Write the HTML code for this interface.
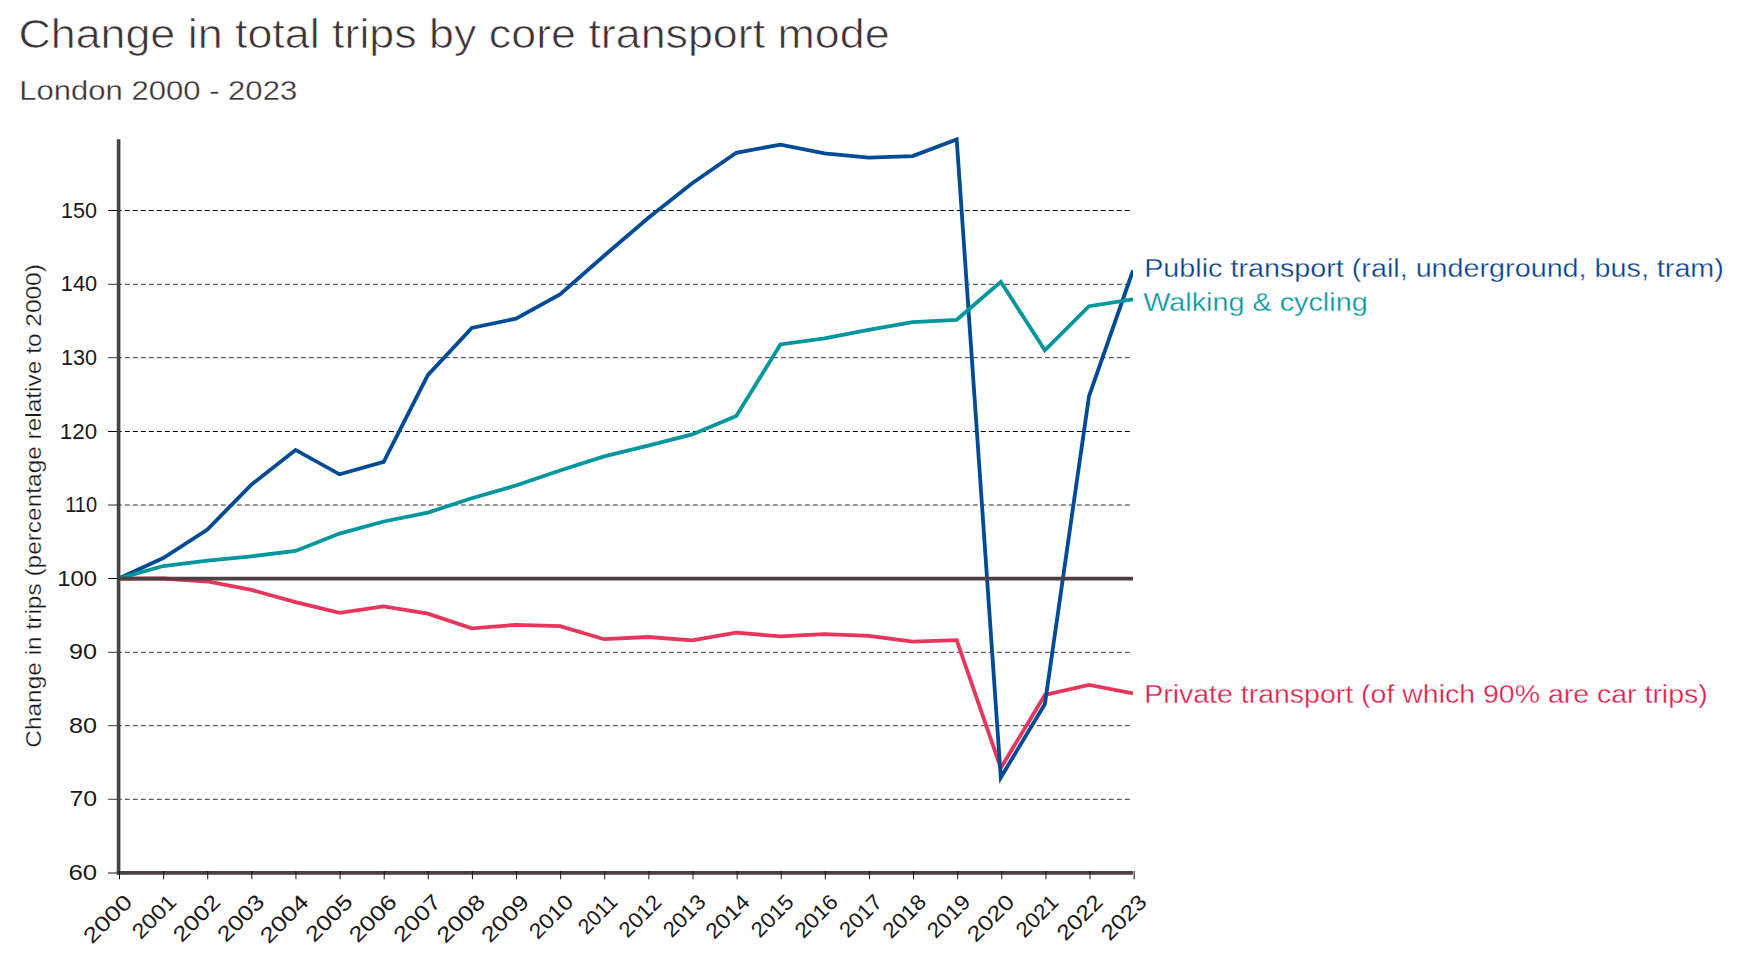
<!DOCTYPE html>
<html lang="en"><head><meta charset="utf-8"><title>Change in total trips by core transport mode</title>
<style>html,body{margin:0;padding:0;background:#fff;}svg{display:block;}text{font-family:"Liberation Sans", sans-serif;}</style>
</head><body>
<svg width="1740" height="962" viewBox="0 0 1740 962">
<rect width="1740" height="962" fill="#fff"/>
<defs><clipPath id="plot"><rect x="110" y="130" width="1023" height="750"/></clipPath></defs>
<text x="18.4" y="48.1" font-size="41.4" fill="#3b3335" stroke="#fff" stroke-width="0.7" textLength="871.2" lengthAdjust="spacingAndGlyphs">Change in total trips by core transport mode</text>
<text x="19.2" y="99.7" font-size="27.6" fill="#3b3335" stroke="#fff" stroke-width="0.3" textLength="278" lengthAdjust="spacingAndGlyphs">London 2000 - 2023</text>
<line x1="116.8" y1="210.50" x2="1130" y2="210.50" stroke="#000" stroke-width="1" stroke-dasharray="5 3"/>
<line x1="116.8" y1="284.30" x2="1130" y2="284.30" stroke="#151112" stroke-width="0.85" stroke-dasharray="5 3"/>
<line x1="116.8" y1="357.70" x2="1130" y2="357.70" stroke="#151112" stroke-width="0.85" stroke-dasharray="5 3"/>
<line x1="116.8" y1="431.50" x2="1130" y2="431.50" stroke="#000" stroke-width="1" stroke-dasharray="5 3"/>
<line x1="116.8" y1="505.00" x2="1130" y2="505.00" stroke="#2e2a2b" stroke-width="1" stroke-dasharray="5 3"/>
<line x1="116.8" y1="652.30" x2="1130" y2="652.30" stroke="#151112" stroke-width="0.85" stroke-dasharray="5 3"/>
<line x1="116.8" y1="725.70" x2="1130" y2="725.70" stroke="#151112" stroke-width="0.85" stroke-dasharray="5 3"/>
<line x1="116.8" y1="799.30" x2="1130" y2="799.30" stroke="#151112" stroke-width="0.85" stroke-dasharray="5 3"/>
<line x1="108.1" y1="873.00" x2="118" y2="873.00" stroke="#151112" stroke-width="1"/>
<text x="68.4" y="880.0" font-size="21.4" fill="#1c1819" textLength="28.7" lengthAdjust="spacingAndGlyphs">60</text>
<line x1="108.1" y1="799.30" x2="118" y2="799.30" stroke="#151112" stroke-width="0.85"/>
<text x="69.4" y="806.3" font-size="21.4" fill="#1c1819" textLength="27.7" lengthAdjust="spacingAndGlyphs">70</text>
<line x1="108.1" y1="725.70" x2="118" y2="725.70" stroke="#151112" stroke-width="0.85"/>
<text x="69.1" y="732.7" font-size="21.4" fill="#1c1819" textLength="28.0" lengthAdjust="spacingAndGlyphs">80</text>
<line x1="108.1" y1="652.30" x2="118" y2="652.30" stroke="#151112" stroke-width="0.85"/>
<text x="69.1" y="659.3" font-size="21.4" fill="#1c1819" textLength="28.0" lengthAdjust="spacingAndGlyphs">90</text>
<line x1="108.1" y1="578.50" x2="118" y2="578.50" stroke="#000" stroke-width="1"/>
<text x="57.3" y="585.5" font-size="21.4" fill="#1c1819" textLength="39.8" lengthAdjust="spacingAndGlyphs">100</text>
<line x1="108.1" y1="505.00" x2="118" y2="505.00" stroke="#2e2a2b" stroke-width="1"/>
<text x="65.2" y="512.0" font-size="21.4" fill="#1c1819" textLength="31.9" lengthAdjust="spacingAndGlyphs">110</text>
<line x1="108.1" y1="431.50" x2="118" y2="431.50" stroke="#000" stroke-width="1"/>
<text x="59.8" y="438.5" font-size="21.4" fill="#1c1819" textLength="37.3" lengthAdjust="spacingAndGlyphs">120</text>
<line x1="108.1" y1="357.70" x2="118" y2="357.70" stroke="#151112" stroke-width="0.85"/>
<text x="61.0" y="364.7" font-size="21.4" fill="#1c1819" textLength="36.1" lengthAdjust="spacingAndGlyphs">130</text>
<line x1="108.1" y1="284.30" x2="118" y2="284.30" stroke="#151112" stroke-width="0.85"/>
<text x="60.8" y="291.3" font-size="21.4" fill="#1c1819" textLength="36.3" lengthAdjust="spacingAndGlyphs">140</text>
<line x1="108.1" y1="210.50" x2="118" y2="210.50" stroke="#000" stroke-width="1"/>
<text x="61.1" y="217.5" font-size="21.4" fill="#1c1819" textLength="36.0" lengthAdjust="spacingAndGlyphs">150</text>
<g clip-path="url(#plot)" fill="none" stroke-linejoin="miter" stroke-miterlimit="10">
<polyline points="119.2,578.6 163.3,578.5 207.4,581.5 251.4,589.9 295.5,602.1 339.6,612.8 383.7,606.4 427.8,613.6 471.8,628.4 515.9,624.8 560.0,626.1 604.1,639.2 648.2,637.0 692.2,640.4 736.3,632.7 780.4,636.4 824.5,634.2 868.6,635.9 912.6,641.7 956.7,640.2 1000.8,768.0 1044.9,694.9 1089.0,684.9 1133.0,693.5" stroke="#e7355c" stroke-width="3.8"/>
<polyline points="119.2,578.3 163.3,558.1 207.4,529.5 251.4,484.6 295.5,449.9 339.6,474.3 383.7,461.9 427.8,375.2 471.8,328.0 515.9,318.6 560.0,294.5 604.1,255.8 648.2,218.0 692.2,183.3 736.3,152.8 780.4,144.6 824.5,153.4 868.6,157.7 912.6,156.1 956.7,139.4 1000.8,777.5 1044.9,704.0 1089.0,396.3 1133.0,270.4" stroke="#014a96" stroke-width="3.8"/>
<polyline points="119.2,578.3 163.3,566.0 207.4,560.7 251.4,556.3 295.5,551.0 339.6,533.6 383.7,521.5 427.8,512.6 471.8,498.2 515.9,485.5 560.0,470.5 604.1,456.4 648.2,445.6 692.2,434.4 736.3,416.0 780.4,344.4 824.5,338.4 868.6,329.9 912.6,322.1 956.7,319.8 1000.8,281.8 1044.9,350.3 1089.0,306.2 1133.0,299.4" stroke="#00969e" stroke-width="3.8"/>
</g>
<line x1="118.6" y1="578.6" x2="1133" y2="578.6" stroke="#4a4143" stroke-width="3.6"/>
<line x1="118.6" y1="139.2" x2="118.6" y2="874.8" stroke="#4a4143" stroke-width="3.6"/>
<line x1="116.8" y1="872.9" x2="1132.9" y2="872.9" stroke="#4a4143" stroke-width="3.8"/>
<line x1="119.50" y1="871" x2="119.50" y2="879.3" stroke="#151112" stroke-width="1"/>
<text transform="translate(133.5,903.3) rotate(-45)" x="-58.6" y="0" font-size="21.4" fill="#1c1819" textLength="58.6" lengthAdjust="spacingAndGlyphs">2000</text>
<line x1="163.62" y1="871" x2="163.62" y2="879.3" stroke="#151112" stroke-width="1"/>
<text transform="translate(177.6,903.3) rotate(-45)" x="-52.1" y="0" font-size="21.4" fill="#1c1819" textLength="52.1" lengthAdjust="spacingAndGlyphs">2001</text>
<line x1="207.73" y1="871" x2="207.73" y2="879.3" stroke="#151112" stroke-width="1"/>
<text transform="translate(221.7,903.3) rotate(-45)" x="-56.5" y="0" font-size="21.4" fill="#1c1819" textLength="56.5" lengthAdjust="spacingAndGlyphs">2002</text>
<line x1="251.84" y1="871" x2="251.84" y2="879.3" stroke="#151112" stroke-width="1"/>
<text transform="translate(265.8,903.3) rotate(-45)" x="-56.4" y="0" font-size="21.4" fill="#1c1819" textLength="56.4" lengthAdjust="spacingAndGlyphs">2003</text>
<line x1="295.96" y1="871" x2="295.96" y2="879.3" stroke="#151112" stroke-width="1"/>
<text transform="translate(310.0,903.3) rotate(-45)" x="-58.5" y="0" font-size="21.4" fill="#1c1819" textLength="58.5" lengthAdjust="spacingAndGlyphs">2004</text>
<line x1="340.08" y1="871" x2="340.08" y2="879.3" stroke="#151112" stroke-width="1"/>
<text transform="translate(354.1,903.3) rotate(-45)" x="-56.5" y="0" font-size="21.4" fill="#1c1819" textLength="56.5" lengthAdjust="spacingAndGlyphs">2005</text>
<line x1="384.19" y1="871" x2="384.19" y2="879.3" stroke="#151112" stroke-width="1"/>
<text transform="translate(398.2,903.3) rotate(-45)" x="-57.3" y="0" font-size="21.4" fill="#1c1819" textLength="57.3" lengthAdjust="spacingAndGlyphs">2006</text>
<line x1="428.31" y1="871" x2="428.31" y2="879.3" stroke="#151112" stroke-width="1"/>
<text transform="translate(442.3,903.3) rotate(-45)" x="-56.7" y="0" font-size="21.4" fill="#1c1819" textLength="56.7" lengthAdjust="spacingAndGlyphs">2007</text>
<line x1="472.42" y1="871" x2="472.42" y2="879.3" stroke="#151112" stroke-width="1"/>
<text transform="translate(486.4,903.3) rotate(-45)" x="-57.9" y="0" font-size="21.4" fill="#1c1819" textLength="57.9" lengthAdjust="spacingAndGlyphs">2008</text>
<line x1="516.54" y1="871" x2="516.54" y2="879.3" stroke="#151112" stroke-width="1"/>
<text transform="translate(530.5,903.3) rotate(-45)" x="-57.3" y="0" font-size="21.4" fill="#1c1819" textLength="57.3" lengthAdjust="spacingAndGlyphs">2009</text>
<line x1="560.65" y1="871" x2="560.65" y2="879.3" stroke="#151112" stroke-width="1"/>
<text transform="translate(574.7,903.3) rotate(-45)" x="-52.1" y="0" font-size="21.4" fill="#1c1819" textLength="52.1" lengthAdjust="spacingAndGlyphs">2010</text>
<line x1="604.77" y1="871" x2="604.77" y2="879.3" stroke="#151112" stroke-width="1"/>
<text transform="translate(618.8,903.3) rotate(-45)" x="-45.5" y="0" font-size="21.4" fill="#1c1819" textLength="45.5" lengthAdjust="spacingAndGlyphs">2011</text>
<line x1="648.88" y1="871" x2="648.88" y2="879.3" stroke="#151112" stroke-width="1"/>
<text transform="translate(662.9,903.3) rotate(-45)" x="-50.0" y="0" font-size="21.4" fill="#1c1819" textLength="50.0" lengthAdjust="spacingAndGlyphs">2012</text>
<line x1="693.00" y1="871" x2="693.00" y2="879.3" stroke="#151112" stroke-width="1"/>
<text transform="translate(707.0,903.3) rotate(-45)" x="-49.9" y="0" font-size="21.4" fill="#1c1819" textLength="49.9" lengthAdjust="spacingAndGlyphs">2013</text>
<line x1="737.11" y1="871" x2="737.11" y2="879.3" stroke="#151112" stroke-width="1"/>
<text transform="translate(751.1,903.3) rotate(-45)" x="-52.0" y="0" font-size="21.4" fill="#1c1819" textLength="52.0" lengthAdjust="spacingAndGlyphs">2014</text>
<line x1="781.23" y1="871" x2="781.23" y2="879.3" stroke="#151112" stroke-width="1"/>
<text transform="translate(795.2,903.3) rotate(-45)" x="-50.0" y="0" font-size="21.4" fill="#1c1819" textLength="50.0" lengthAdjust="spacingAndGlyphs">2015</text>
<line x1="825.34" y1="871" x2="825.34" y2="879.3" stroke="#151112" stroke-width="1"/>
<text transform="translate(839.3,903.3) rotate(-45)" x="-50.8" y="0" font-size="21.4" fill="#1c1819" textLength="50.8" lengthAdjust="spacingAndGlyphs">2016</text>
<line x1="869.46" y1="871" x2="869.46" y2="879.3" stroke="#151112" stroke-width="1"/>
<text transform="translate(883.5,903.3) rotate(-45)" x="-50.2" y="0" font-size="21.4" fill="#1c1819" textLength="50.2" lengthAdjust="spacingAndGlyphs">2017</text>
<line x1="913.57" y1="871" x2="913.57" y2="879.3" stroke="#151112" stroke-width="1"/>
<text transform="translate(927.6,903.3) rotate(-45)" x="-51.3" y="0" font-size="21.4" fill="#1c1819" textLength="51.3" lengthAdjust="spacingAndGlyphs">2018</text>
<line x1="957.69" y1="871" x2="957.69" y2="879.3" stroke="#151112" stroke-width="1"/>
<text transform="translate(971.7,903.3) rotate(-45)" x="-50.8" y="0" font-size="21.4" fill="#1c1819" textLength="50.8" lengthAdjust="spacingAndGlyphs">2019</text>
<line x1="1001.80" y1="871" x2="1001.80" y2="879.3" stroke="#151112" stroke-width="1"/>
<text transform="translate(1015.8,903.3) rotate(-45)" x="-56.5" y="0" font-size="21.4" fill="#1c1819" textLength="56.5" lengthAdjust="spacingAndGlyphs">2020</text>
<line x1="1045.91" y1="871" x2="1045.91" y2="879.3" stroke="#151112" stroke-width="1"/>
<text transform="translate(1059.9,903.3) rotate(-45)" x="-50.0" y="0" font-size="21.4" fill="#1c1819" textLength="50.0" lengthAdjust="spacingAndGlyphs">2021</text>
<line x1="1090.03" y1="871" x2="1090.03" y2="879.3" stroke="#151112" stroke-width="1"/>
<text transform="translate(1104.0,903.3) rotate(-45)" x="-54.4" y="0" font-size="21.4" fill="#1c1819" textLength="54.4" lengthAdjust="spacingAndGlyphs">2022</text>
<line x1="1134.14" y1="871" x2="1134.14" y2="879.3" stroke="#151112" stroke-width="1"/>
<text transform="translate(1148.1,903.3) rotate(-45)" x="-54.3" y="0" font-size="21.4" fill="#1c1819" textLength="54.3" lengthAdjust="spacingAndGlyphs">2023</text>
<text transform="translate(41.2,747.7) rotate(-90)" font-size="21.6" fill="#1c1819" stroke="#fff" stroke-width="0.25" textLength="483.5" lengthAdjust="spacingAndGlyphs">Change in trips (percentage relative to 2000)</text>
<text x="1144.2" y="276.9" font-size="25" fill="#063f8c" stroke="#fff" stroke-width="0.3" textLength="579.7" lengthAdjust="spacingAndGlyphs">Public transport (rail, underground, bus, tram)</text>
<text x="1143.2" y="310.6" font-size="25" fill="#00969e" stroke="#fff" stroke-width="0.3" textLength="224.5" lengthAdjust="spacingAndGlyphs">Walking &amp; cycling</text>
<text x="1144.2" y="703.0" font-size="25" fill="#e31c49" stroke="#fff" stroke-width="0.3" textLength="563.6" lengthAdjust="spacingAndGlyphs">Private transport (of which 90% are car trips)</text>
</svg>
</body></html>
